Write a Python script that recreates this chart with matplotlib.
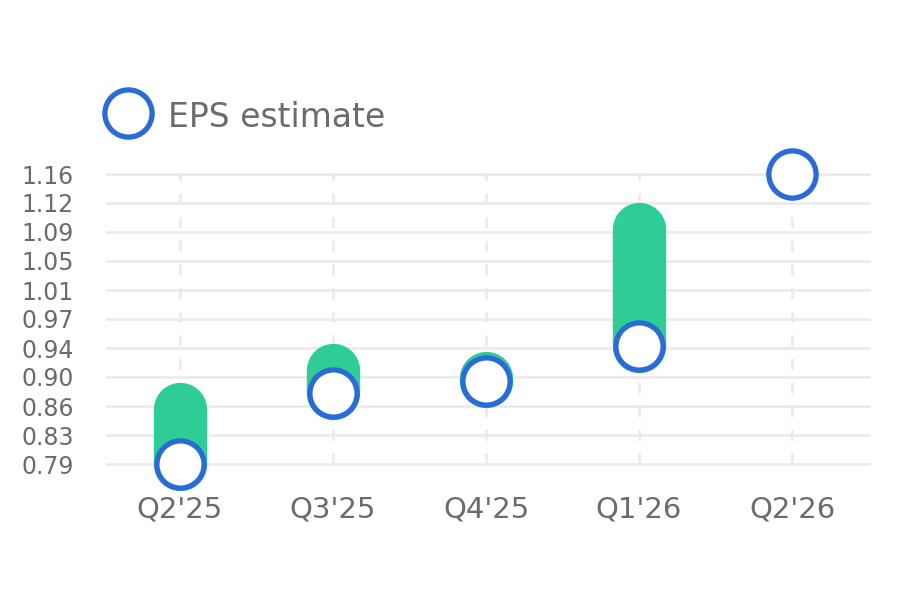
import numpy as np
import matplotlib
matplotlib.use("Agg")
import matplotlib.pyplot as plt
from matplotlib.lines import Line2D

quarters = ["Q2'25", "Q3'25", "Q4'25", "Q1'26", "Q2'26"]
eps_estimate = [0.79, 0.88, 0.896, 0.94, 1.16]
eps_actual = [0.86, 0.91, 0.90, 1.09, np.nan]
y_ticks = [0.79, 0.827, 0.864, 0.901, 0.938, 0.975, 1.012, 1.049, 1.086, 1.123, 1.16]
y_tick_labels = ["0.79", "0.83", "0.86", "0.90", "0.94", "0.97", "1.01", "1.05", "1.09", "1.12", "1.16"]

GREEN = "#2ecd95"
BLUE = "#2a6bd6"
GRID = "#ebebeb"
TEXT = "#6b6b6b"

fig = plt.figure(figsize=(9, 6), dpi=100)
ax = fig.add_axes([107/900, 1-464/600, (869-107)/900, (464-174)/600])

x = np.arange(len(quarters))

# grid
for yt in y_ticks:
    ax.axhline(yt, color=GRID, lw=2, zorder=0, clip_on=False)
for xi in x:
    ax.plot([xi, xi], [y_ticks[0], y_ticks[-1]], color=GRID, lw=2,
            dashes=(4, 4.5), zorder=0, clip_on=False)

# green bars (estimate -> actual)
for xi, e, a in zip(x, eps_estimate, eps_actual):
    if not np.isnan(a):
        ax.plot([xi, xi], [e, a], color=GREEN, lw=38.4,
                solid_capstyle='round', zorder=2, clip_on=False)

# estimate markers
ax.plot(x, eps_estimate, linestyle='none', marker='o', ms=34, mew=3.8,
        mfc='white', mec=BLUE, zorder=3, clip_on=False)

ax.set_xlim(-0.477, 4.503)
ax.set_ylim(0.79, 1.16)
ax.set_xticks(x)
ax.set_xticklabels(quarters)
ax.set_yticks(y_ticks)
ax.set_yticklabels(y_tick_labels)
ax.tick_params(axis='x', length=0, pad=23, labelsize=21, labelcolor=TEXT)
ax.tick_params(axis='y', length=0, pad=24, labelsize=17, labelcolor=TEXT)
for s in ax.spines.values():
    s.set_visible(False)

# legend
fig.add_artist(Line2D([128/900], [1-113/600], transform=fig.transFigure,
                      marker='o', ms=34, mew=3.8, mfc='white', mec=BLUE,
                      linestyle='none'))
fig.text(168/900, 1-117/600, "EPS estimate", fontsize=23.8, color=TEXT,
         va='center', ha='left')

fig.savefig("out.png", dpi=100)
